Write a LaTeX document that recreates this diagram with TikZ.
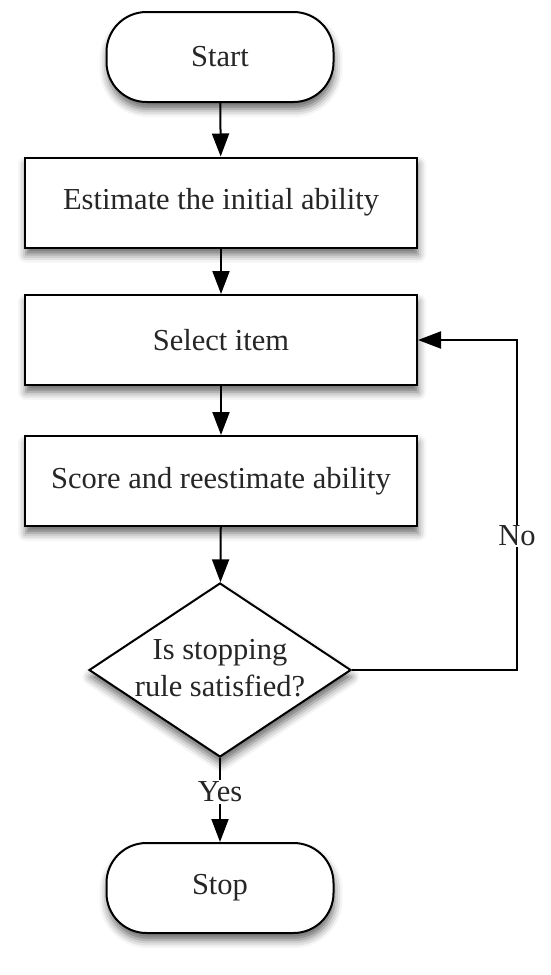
\documentclass[tikz,border=0pt]{standalone}
\usepackage{fontspec}
\setmainfont{Liberation Serif}
\usetikzlibrary{arrows.meta,shapes.geometric,shadows.blur}
\begin{document}
\begin{tikzpicture}[x=1pt,y=-1pt,
  txt/.style={font=\fontsize{30.5}{37}\selectfont,text=black!85},
  base/.style={txt,draw=black,line width=2pt,fill=white,inner sep=0pt,
    blur shadow={shadow xshift=1pt,shadow yshift=-7pt,shadow blur radius=8pt,shadow opacity=60}},
  term/.style={base,rectangle,rounded corners=40pt,minimum width=227pt,minimum height=90pt},
  proc/.style={base,rectangle,minimum width=392pt,minimum height=90pt},
  dec/.style={base,diamond,aspect=1.5,minimum width=262pt,minimum height=174pt},
  lbl/.style={txt,fill=white,inner sep=1pt},
  arr/.style={line width=2pt,-{Triangle[length=23pt,width=17pt]}},
  ln/.style={line width=2pt}]
\useasboundingbox (0,0) rectangle (551,975);
\node[term] (start) at (220,57) {Start};
\node[proc] (b1) at (221,202.5) {Estimate the initial ability};
\node[proc] (b2) at (221,340) {Select item};
\node[proc] (b3) at (221,481) {Score and reestimate ability};
\node[dec] (d) at (220,670) {};
\node[txt,align=center,inner sep=0pt] (dt) at (220,668) {Is stopping\\rule satisfied?};
\node[term] (stop) at (220,888) {Stop};
\node[txt,inner sep=2pt] (yes) at (220,792) {Yes};
\coordinate (nc) at (517,670);
\coordinate (nt) at (517,340);
\draw[arr] (start) -- (b1);
\draw[arr] (b1) -- (b2);
\draw[arr] (b2) -- (b3);
\draw[arr] (b3) -- (d);
\draw[ln] (d.south) -- (yes.north);
\draw[arr] (yes.south) -- (stop.north);
\draw[arr] (d.east) -- (nc) -- (nt) -- (b2.east);
\node[lbl] (no) at (517,536) {No};
\end{tikzpicture}
\end{document}
